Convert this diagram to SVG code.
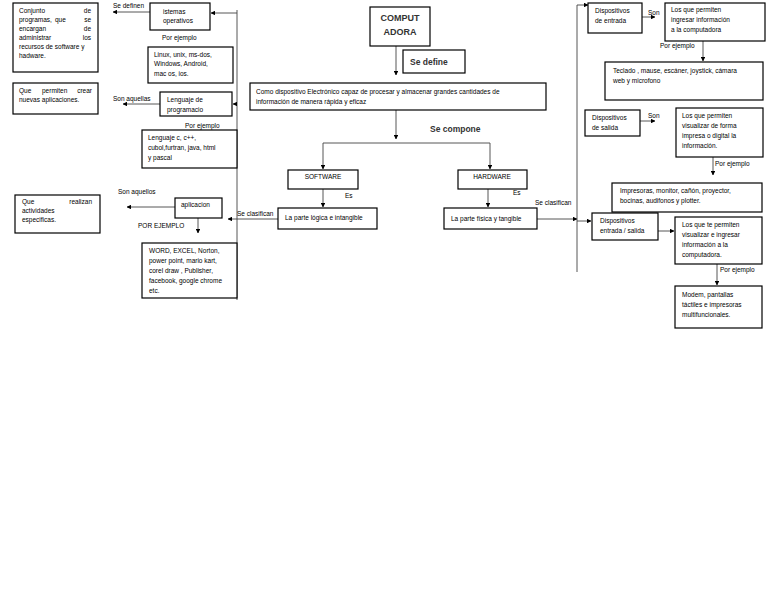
<svg xmlns="http://www.w3.org/2000/svg" width="768" height="594" viewBox="0 0 768 594">
<defs>
<marker id="a" viewBox="0 0 10 10" refX="9" refY="5" markerWidth="5" markerHeight="5" orient="auto"><path d="M0,0L10,5L0,10z" fill="#000"/></marker>
<style>
rect{fill:#fff;stroke:#000;stroke-width:1.2}
text{font-family:"Liberation Sans",Arial,sans-serif;font-size:6.5px;fill:#000}
.b{font-size:9px;font-weight:bold;fill:#333}
line,polyline{stroke:#444;stroke-width:0.9;fill:none}
.c line{marker-end:url(#a)}
</style>
</defs>
<rect x="0" y="0" width="768" height="594" style="fill:#fff;stroke:none"/>
<g class="c" id="connectors">
<polyline points="237,10 237,300"/>
<line x1="237" y1="13" x2="211" y2="13"/>
<line x1="237" y1="104" x2="233" y2="104"/>
<line x1="150" y1="12" x2="113" y2="12"/>
<line x1="160" y1="104" x2="123" y2="104"/>
<line x1="175" y1="207" x2="127" y2="207"/>
<line x1="198" y1="218" x2="198" y2="233"/>
<line x1="280" y1="219" x2="228" y2="219"/>
<line x1="396" y1="46" x2="396" y2="75"/>
<line x1="396" y1="110" x2="396" y2="139"/>
<polyline points="323,143 490,143"/>
<line x1="323" y1="143" x2="323" y2="169"/>
<line x1="490" y1="143" x2="490" y2="169"/>
<line x1="323" y1="189" x2="323" y2="207"/>
<line x1="488" y1="189" x2="488" y2="207"/>
<line x1="537" y1="219" x2="577" y2="219"/>
<polyline points="577,5 577,272"/>
<line x1="577" y1="5" x2="588" y2="5"/>
<line x1="642" y1="17" x2="655" y2="17"/>
<line x1="703" y1="41" x2="703" y2="61"/>
<line x1="640" y1="121" x2="655" y2="121"/>
<line x1="713" y1="157" x2="713" y2="175"/>
<line x1="577" y1="221" x2="591" y2="221"/>
<line x1="658" y1="231" x2="674" y2="231"/>
<line x1="717" y1="264" x2="717" y2="285"/>
</g>
<g id="labels">
<text x="113" y="8">Se definen</text>
<text x="162" y="40">Por ejemplo</text>
<text x="113" y="101">Son aquellas</text>
<text x="185" y="128">Por ejemplo</text>
<text x="118" y="194">Son aquellos</text>
<text x="138" y="228">POR EJEMPLO</text>
<text x="237" y="216">Se clasifican</text>
<text x="345" y="198">Es</text>
<text x="513" y="195">Es</text>
<text x="535" y="205">Se clasifican</text>
<text x="430" y="132" class="b" style="font-size:8.5px">Se compone</text>
<text x="648" y="15">Son</text>
<text x="660" y="48">Por ejemplo</text>
<text x="648" y="118">Son</text>
<text x="715" y="166">Por ejemplo</text>
<text x="720" y="272">Por ejemplo</text>
</g>
<g id="n1"><rect x="13" y="3" width="85" height="69"/>
<text x="19" y="13">Conjunto</text><text x="91" y="13" text-anchor="end">de</text>
<text x="19" y="22">programas,</text><text x="55" y="22">que</text><text x="91" y="22" text-anchor="end">se</text>
<text x="19" y="31">encargan</text><text x="91" y="31" text-anchor="end">de</text>
<text x="19" y="40">administrar</text><text x="91" y="40" text-anchor="end">los</text>
<text x="19" y="49">recursos de software y</text>
<text x="19" y="58">hadware.</text></g>
<g id="n2"><rect x="13" y="83" width="85" height="31"/>
<text x="19" y="93">Que</text><text x="42" y="93">permiten</text><text x="92" y="93" text-anchor="end">crear</text>
<text x="19" y="102">nuevas aplicaciones.</text></g>
<g id="n3"><rect x="150" y="3" width="60" height="27"/>
<text x="163" y="14">istemas</text><text x="163" y="23">operativos</text></g>
<g id="n4"><rect x="148" y="47" width="85" height="36"/>
<text x="154" y="57">Linux, unix, ms-dos,</text><text x="154" y="66">Windows, Android,</text><text x="154" y="76">mac os, ios.</text></g>
<g id="n5"><rect x="160" y="92" width="72" height="24"/>
<text x="167" y="102">Lenguaje de</text><text x="167" y="112">programacio</text></g>
<g id="n6"><rect x="142" y="130" width="95" height="38"/>
<text x="148" y="140">Lenguaje c, c++,</text><text x="148" y="150">cubol,furtran, java, html</text><text x="148" y="160">y pascal</text></g>
<g id="n7"><rect x="15" y="195" width="85" height="38"/>
<text x="22" y="204">Que</text><text x="92" y="204" text-anchor="end">realizan</text>
<text x="22" y="213">actividades</text><text x="22" y="222">especificas.</text></g>
<g id="n8"><rect x="175" y="198" width="47" height="20"/><text x="181" y="207">aplicacion</text></g>
<g id="n9"><rect x="142" y="243" width="95" height="55"/>
<text x="149" y="253">WORD, EXCEL, Norton,</text><text x="149" y="263">power point, mario kart,</text><text x="149" y="273">corel draw , Publisher,</text><text x="149" y="283">facebook, google chrome</text><text x="149" y="293">etc.</text></g>
<g id="n10"><rect x="370" y="7" width="60" height="39"/>
<text x="400" y="21" class="b" text-anchor="middle">COMPUT</text><text x="400" y="35" class="b" text-anchor="middle">ADORA</text></g>
<g id="n11"><rect x="403" y="50" width="62" height="23"/><text x="410" y="65" class="b" style="font-size:8.5px">Se define</text></g>
<g id="n12"><rect x="250" y="83" width="296" height="27"/>
<text x="256" y="94">Como dispositivo Electrónico capaz de procesar y almacenar grandes cantidades de</text>
<text x="256" y="104">información de manera rápida y eficaz</text></g>
<g id="n13"><rect x="288" y="170" width="70" height="19"/><text x="323" y="179" text-anchor="middle">SOFTWARE</text></g>
<g id="n14"><rect x="458" y="170" width="69" height="19"/><text x="492" y="179" text-anchor="middle">HARDWARE</text></g>
<g id="n15"><rect x="278" y="208" width="99" height="21"/><text x="285" y="220">La parte lógica e intangible</text></g>
<g id="n16"><rect x="444" y="208" width="93" height="21"/><text x="451" y="221">La parte física y tangible</text></g>
<g id="n17"><rect x="588" y="3" width="54" height="30"/><text x="595" y="13">Dispositivos</text><text x="595" y="23">de entrada</text></g>
<g id="n18"><rect x="665" y="3" width="100" height="38"/><text x="671" y="12">Los que permiten</text><text x="671" y="22">ingresar información</text><text x="671" y="32">a la computadora</text></g>
<g id="n19"><rect x="605" y="62" width="158" height="38"/><text x="613" y="73">Teclado , mause, escáner, joystick, cámara</text><text x="613" y="83">web y microfono</text></g>
<g id="n20"><rect x="585" y="110" width="55" height="26"/><text x="592" y="120">Dispositivos</text><text x="592" y="130">de salida</text></g>
<g id="n21"><rect x="676" y="108" width="87" height="49"/><text x="682" y="118">Los que permiten</text><text x="682" y="128">visualizar de forma</text><text x="682" y="138">impresa o digital la</text><text x="682" y="148">información.</text></g>
<g id="n22"><rect x="612" y="183" width="150" height="29"/><text x="620" y="193">Impresoras, monitor, cañón, proyector,</text><text x="620" y="203">bocinas, audifonos y plotter.</text></g>
<g id="n23"><rect x="592" y="213" width="66" height="27"/><text x="600" y="223">Dispositivos</text><text x="600" y="233">entrada / salida</text></g>
<g id="n24"><rect x="675" y="217" width="87" height="47"/><text x="682" y="227">Los que te permiten</text><text x="682" y="237">visualizar e ingresar</text><text x="682" y="247">información a la</text><text x="682" y="257">computadora.</text></g>
<g id="n25"><rect x="675" y="286" width="87" height="42"/><text x="682" y="297">Modem, pantallas</text><text x="682" y="307">táctiles e impresoras</text><text x="682" y="317">multifuncionales.</text></g>
</svg>
